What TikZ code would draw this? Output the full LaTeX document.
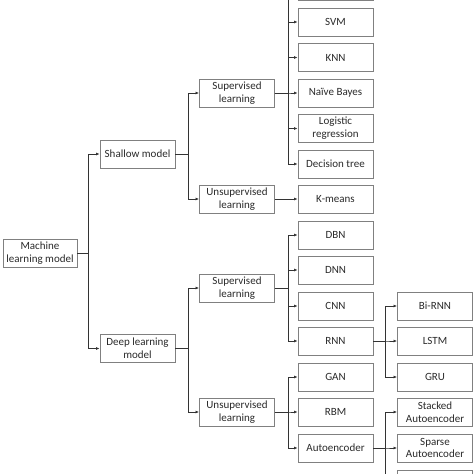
\documentclass[tikz,border=0pt]{standalone}
\usepackage{fontspec}
\setmainfont{Carlito}
\usetikzlibrary{arrows.meta}
\definecolor{linec}{HTML}{333333}
\definecolor{boxc}{HTML}{808080}
\definecolor{txtc}{HTML}{2A2A2A}
\begin{document}
\begin{tikzpicture}[x=1pt,y=-1pt,
  box/.style={draw=boxc,line width=0.9pt,minimum width=75pt,minimum height=28pt,
    inner sep=1pt,align=center,text=txtc,font=\fontsize{11}{12.8}\selectfont},
  arr/.style={draw=linec,line width=0.9pt,-{Latex[length=3.5pt,width=3pt]}}]
\useasboundingbox (0,0) rectangle (474,474);
\clip (0,0) rectangle (474,474);
\fill[white] (0,0) rectangle (474,474);
% column 1 & 2
\node[box,minimum width=74pt] (ml) at (40,253) {Machine\\learning model};
\node[box] (sh) at (137.5,154) {Shallow model};
\node[box] (dl) at (137.5,348.5) {Deep learning\\model};
% column 3
\node[box] (ssl) at (237,93) {Supervised\\learning};
\node[box] (sul) at (237,199) {Unsupervised\\learning};
\node[box] (dsl) at (237,288) {Supervised\\learning};
\node[box] (dul) at (237,412) {Unsupervised\\learning};
% column 4
\node[box] (top) at (335.5,-13.4) {};
\node[box] (svm) at (335.5,22) {SVM};
\node[box] (knn) at (335.5,57.5) {KNN};
\node[box] (nb) at (335.5,93) {Naïve Bayes};
\node[box] (lr) at (335.5,128.5) {Logistic\\regression};
\node[box] (dt) at (335.5,164) {Decision tree};
\node[box] (km) at (335.5,199) {K-means};
\node[box] (dbn) at (335.5,235) {DBN};
\node[box] (dnn) at (335.5,270) {DNN};
\node[box] (cnn) at (335.5,306) {CNN};
\node[box] (rnn) at (335.5,341) {RNN};
\node[box] (gan) at (335.5,377) {GAN};
\node[box] (rbm) at (335.5,412) {RBM};
\node[box] (ae) at (335.5,448) {Autoencoder};
% column 5
\node[box] (birnn) at (435,306) {Bi-RNN};
\node[box] (lstm) at (435,341) {LSTM};
\node[box] (gru) at (435,377) {GRU};
\node[box] (sae) at (435,412) {Stacked\\Autoencoder};
\node[box] (spae) at (435,448) {Sparse\\Autoencoder};
\node[box] (bot) at (435,484) {};
% connectors
\draw[arr] (ml.east) -- ++(11,0) |- (sh.west);
\draw[arr] (ml.east) -- ++(11,0) |- (dl.west);
\draw[arr] (sh.east) -- ++(13,0) |- (ssl.west);
\draw[arr] (sh.east) -- ++(13,0) |- (sul.west);
\draw[arr] (dl.east) -- ++(13,0) |- (dsl.west);
\draw[arr] (dl.east) -- ++(13,0) |- (dul.west);
\foreach \t in {top,svm,knn,nb,lr,dt} \draw[arr] (ssl.east) -- ++(13,0) |- (\t.west);
\draw[arr] (sul.east) -- (km.west);
\foreach \t in {dbn,dnn,cnn,rnn} \draw[arr] (dsl.east) -- ++(13,0) |- (\t.west);
\foreach \t in {gan,rbm,ae} \draw[arr] (dul.east) -- ++(13,0) |- (\t.west);
\foreach \t in {birnn,lstm,gru} \draw[arr] (rnn.east) -- ++(12,0) |- (\t.west);
\foreach \t in {sae,spae,bot} \draw[arr] (ae.east) -- ++(12,0) |- (\t.west);
\end{tikzpicture}
\end{document}
